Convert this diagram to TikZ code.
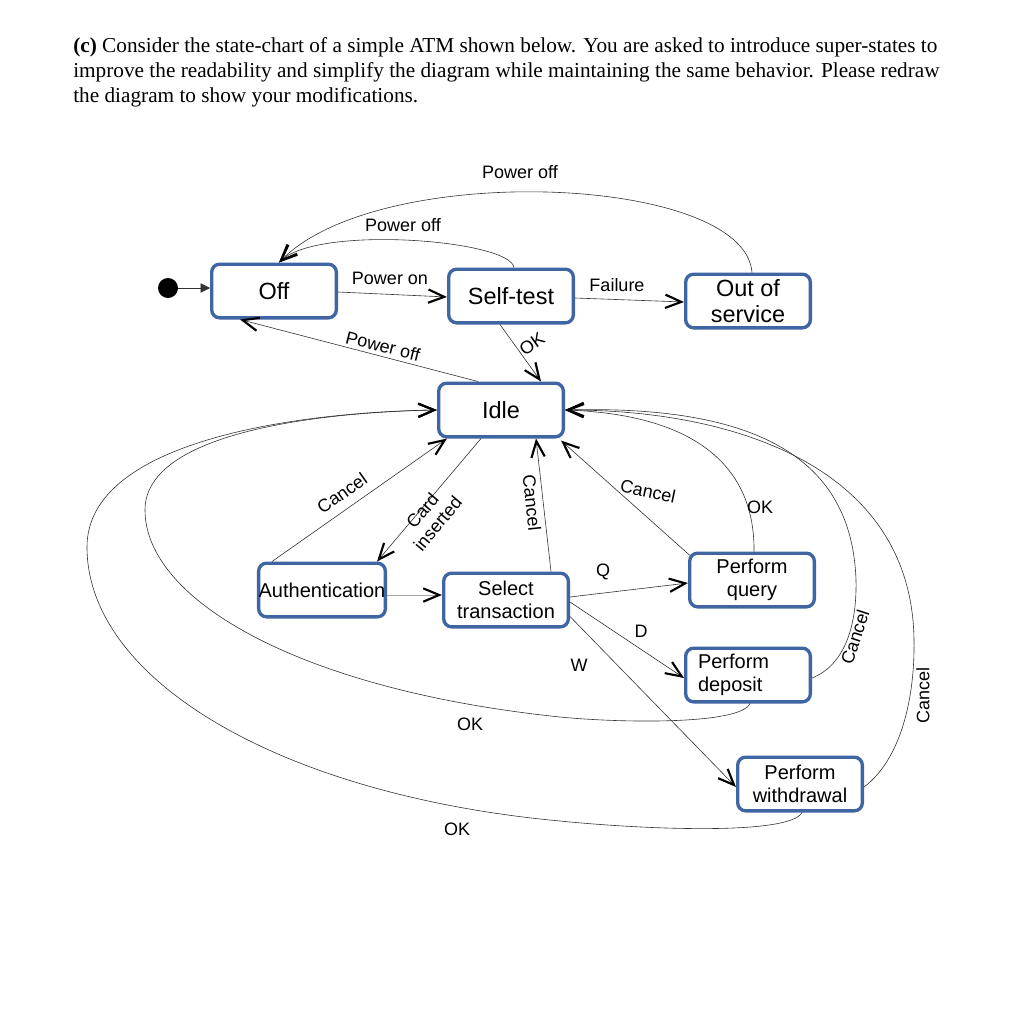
\documentclass[tikz,border=0pt]{standalone}
\usepackage{fontspec}
\setmainfont{Liberation Serif}
\setsansfont{Liberation Sans}
\usetikzlibrary{arrows.meta,calc}
\definecolor{stateblue}{HTML}{3F65A3}
\begin{document}
\begin{tikzpicture}[x=0.75pt,y=-0.75pt,
  state/.style={draw=stateblue, line width=2.5pt, rounded corners=6pt, fill=white,
    minimum width=93.5pt, minimum height=40.25pt, inner sep=0pt,
    font=\sffamily\fontsize{15}{17}\selectfont, align=center},
  bigstate/.style={state, font=\sffamily\fontsize{17.6}{20}\selectfont},
  lbl/.style={font=\sffamily\fontsize{13.5}{15}\selectfont, inner sep=0pt},
  ttl/.style={anchor=base west, inner sep=0pt, font=\fontsize{15.95}{18.75}\selectfont},
  conn/.style={draw=black!80, line width=0.45pt},
  tr/.style={conn, -{Straight Barb[length=12pt,width=10pt,line width=1.6pt,color=black]}},
]
\useasboundingbox (0,0) rectangle (1024,1017);

% title
\node[ttl] (title1) at (73,52) {\textbf{(c)} Consider the state-chart of a simple ATM shown below. You are asked to introduce super-states to};
\node[ttl] (title2) at (73,77) {improve the readability and simplify the diagram while maintaining the same behavior. Please redraw};
\node[ttl] (title3) at (73,102) {the diagram to show your modifications.};

% states
\node[circle, fill=black, minimum size=15pt, inner sep=0pt] (init) at (168,288) {};
\node[bigstate] (off) at (274,291) {Off};
\node[bigstate] (selftest) at (511,296) {Self-test};
\node[bigstate] (oos) at (748,301) {Out of\\service};
\node[bigstate] (idle) at (501,410) {Idle};
\node[state] (auth) at (322,590) {Authentication};
\node[state] (select) at (506,600) {Select\\transaction};
\node[state] (query) at (752,580) {Perform\\query};
\node[state, text width=75pt, align=left] (deposit) at (748,675) {Perform\\deposit};
\node[state] (withdraw) at (800,784) {Perform\\withdrawal};

% transitions
\draw[conn, -{Triangle[length=7pt,width=7pt]}] (init) -- (off.west |- init);
\draw[tr] ($(off.east)+(0,1)$) -- ($(selftest.west)+(0,1)$);
\draw[tr] ($(selftest.north)+(3,0)$) .. controls (510,240) and (320,225) .. ($(off.north)+(5,0)$);
\draw[tr] ($(oos.north)+(4,0)$) .. controls (745,175) and (380,160) .. ($(off.north)+(5,0)$);
\draw[tr] ($(selftest.east)+(0,2)$) -- ($(oos.west)+(0,1)$);
\draw[tr] ($(selftest.south)+(-11,0)$) -- ($(idle.north)+(40,0)$);
\draw[tr] ($(idle.north)+(-23,0)$) -- ($(off.south)+(-34,0)$);
\draw[tr] ($(idle.south)+(-20,0)$) -- ($(auth.north east)+(-10,0)$);
\draw[tr] ($(auth.north)+(-50,0)$) -- ($(idle.south west)+(10,0)$);
\draw[tr, draw=black!35] ($(auth.east)+(0,5)$) -- ($(select.west)+(0,-5)$);
\draw[tr] ($(select.north)+(45,0)$) -- ($(idle.south)+(35,0)$);
\draw[tr] ($(select.east)+(0,-3)$) -- ($(query.west)+(0,3)$);
\draw[tr] ($(select.east)+(0,2)$) -- ($(deposit.west)+(0,3)$);
\draw[tr] ($(select.south east)+(0,-12)$) -- ($(withdraw.west)+(0,3)$);
\draw[tr] ($(query.north west)+(2,4)$) -- ($(idle.south east)+(-4,2)$);
\draw[tr] ($(query.north)+(2,0)$) .. controls (755,470) and (700,415) .. (idle.east);
\draw[tr] ($(deposit.east)+(0,3)$) .. controls (845,665) and (857,625) .. (856,580)
  .. controls (852,460) and (760,405) .. (idle.east);
\draw[tr] ($(withdraw.east)+(0,3)$) .. controls (900,760) and (915,700) .. (914,640)
  .. controls (912,470) and (740,410) .. (idle.east);
\draw[tr] ($(deposit.south)+(2,0)$) .. controls (740,725) and (620,723) .. (560,717)
  .. controls (300,690) and (145,600) .. (145,510)
  .. controls (145,430) and (330,412) .. (idle.west);
\draw[tr] ($(withdraw.south)+(2,0)$) .. controls (790,835) and (650,830) .. (560,821)
  .. controls (280,795) and (87,680) .. (87,547)
  .. controls (87,440) and (300,412) .. (idle.west);

% labels
\node[lbl] (lpoweroff1) at (520,172) {Power off};
\node[lbl] (lpoweroff2) at (403,225) {Power off};
\node[lbl] (lpoweron) at (390,278) {Power on};
\node[lbl] (lfailure) at (617,285) {Failure};
\node[lbl, rotate=35] (lok1) at (532,344) {OK};
\node[lbl, rotate=-14] (lpoweroff3) at (383,346) {Power off};
\node[lbl, rotate=35] (lcancel1) at (342,493) {Cancel};
\node[lbl, rotate=50, align=center] (lcard) at (430,517) {Card\\inserted};
\node[lbl, rotate=-84] (lcancel2) at (532,503) {Cancel};
\node[lbl, rotate=-12] (lcancel3) at (648,491) {Cancel};
\node[lbl] (lok2) at (760,507) {OK};
\node[lbl] (lq) at (603,572) {Q};
\node[lbl] (ld) at (641,631) {D};
\node[lbl] (lw) at (579,665) {W};
\node[lbl, rotate=72] (lcancel4) at (855,637) {Cancel};
\node[lbl, rotate=90] (lcancel5) at (923,695) {Cancel};
\node[lbl] (lok3) at (470,724) {OK};
\node[lbl] (lok4) at (457,829) {OK};
\end{tikzpicture}
\end{document}
